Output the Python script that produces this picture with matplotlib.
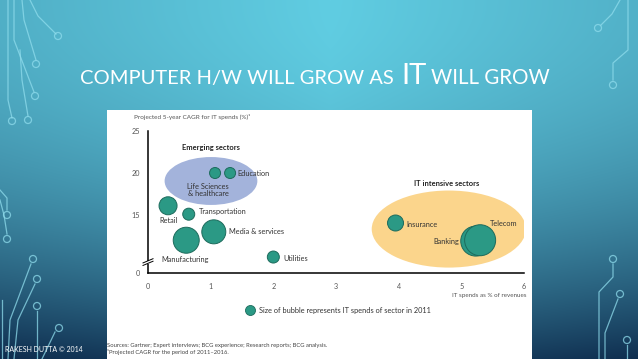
import numpy as np
import matplotlib
matplotlib.use("Agg")
import matplotlib.pyplot as plt
from matplotlib.patches import Ellipse, Rectangle, Circle

W, H = 638, 359

# data
sectors = ["Life Sciences\n& healthcare", "Education", "Retail", "Transportation",
           "Media & services", "Manufacturing", "Utilities", "Insurance",
           "Banking", "Telecom"]
it_spend = [1.07, 1.31, 0.32, 0.65, 1.05, 0.61, 2.00, 3.95, 5.23, 5.30]
cagr = [20.0, 20.0, 16.1, 15.1, 13.0, 12.0, 10.0, 14.05, 11.9, 12.0]
bubble_size = [5.5, 5.5, 9, 6, 12, 13, 6, 8, 15, 15.5]
# label offsets (pixels right / down) and alignment
label_off = [(-7, 17), (7, 0), (0, 15), (10, -3), (15, 0), (-25, 19),
             (10, 1), (11, 1), (-16, 0), (10, -17)]
label_ha = ["center", "left", "center", "left", "left", "left",
            "left", "left", "right", "left"]

x_ticks = [0, 1, 2, 3, 4, 5, 6]
y_ticks = [25, 20, 15]
y_bottom = 8.1

groups = ["Emerging sectors", "IT intensive sectors"]
group_center = [(1.005, 19.05), (4.80, 13.33)]
group_size = [(1.48, 5.7), (2.46, 9.17)]
group_color = ["#a3b3db", "#fbd58c"]
group_title_pos = [(1.0, 23.0), (4.76, 18.8)]

FONT = "Lato"
bubble_fc = "#2b9985"
bubble_ec = "#1d6b5c"

fig = plt.figure(figsize=(W / 100, H / 100), dpi=100)

# slide background
bg = fig.add_axes([0, 0, 1, 1])
bg.set_xlim(0, W)
bg.set_ylim(H, 0)
bg.axis("off")
xx, yy = np.meshgrid(np.arange(W), np.arange(H))
f = 0.17 * np.abs(xx - 330) / 320 + 0.78 * (yy / H) ** 2.1
f = np.clip(f, 0, 1)[..., None]
light = np.array([96, 205, 226]) / 255
dark = np.array([10, 36, 70]) / 255
bg.imshow(light * (1 - f) + dark * f, extent=[0, W, H, 0], aspect="auto", zorder=0)

# circuit decorations
lc = "#8fdcec"
paths = [
    [(30, 0), (38, 16), (56, 34)], [(22, 0), (24, 20), (36, 60)],
    [(14, 0), (14, 40), (34, 92)], [(8, 0), (8, 100), (12, 118)],
    [(20, 50), (22, 80), (28, 116)], [(0, 190), (7, 198), (7, 210)],
    [(0, 200), (4, 215), (7, 234)], [(8, 359), (10, 320), (31, 264)],
    [(14, 359), (18, 320), (35, 284)], [(37, 359), (37, 311)],
    [(42, 359), (55, 332)], [(2, 359), (2, 300)],
    [(620, 0), (612, 14), (601, 25)], [(628, 0), (628, 50), (613, 63), (613, 80)],
    [(613, 264), (613, 277), (599, 292), (599, 359)],
    [(618, 299), (605, 333), (605, 359)], [(627, 345), (627, 359)],
]
for p in paths:
    px, py = zip(*p)
    bg.plot(px, py, color=lc, lw=0.9, alpha=0.75, zorder=1)
for cx, cy in [(58, 36), (36, 64), (35, 96), (12, 121), (28, 120), (7, 215), (7, 239),
               (33, 259), (37, 279), (37, 306), (59, 328), (598, 28), (613, 85),
               (613, 259), (620, 294), (627, 340)]:
    bg.add_patch(Circle((cx, cy), 3.5, fill=False, ec=lc, lw=0.9, alpha=0.75, zorder=1))

# title
title_kw = dict(color="white", fontfamily=FONT, va="baseline", zorder=3)
bg.text(80, 84, "COMPUTER H/W WILL GROW AS", fontsize=14.5, **title_kw)
bg.text(401, 84, "IT", fontsize=21, **title_kw)
bg.text(431, 84, "WILL GROW", fontsize=14.8, **title_kw)
bg.text(5, 349, "RAKESH DUTTA © 2014", fontsize=5, color="white",
        fontfamily=FONT, va="center", zorder=3)

# white chart panel
bg.add_patch(Rectangle((107, 110), 425, 249, fc="white", ec="none", zorder=2))
bg.text(134, 117, "Projected 5-year CAGR for IT spends (%)\u00b9", fontsize=4.6,
        color="#555555", fontfamily=FONT, va="center", zorder=3)
bg.text(526, 296, "IT spends as % of revenues", fontsize=4.5, color="#555555",
        fontfamily=FONT, ha="right", va="center", zorder=3)
bg.scatter([250], [310], s=(2 * 5 * 0.72) ** 2, color=bubble_fc, ec=bubble_ec,
           lw=0.6, zorder=3)
bg.text(259, 310, "Size of bubble represents IT spends of sector in 2011", fontsize=5.3,
        color="#333333", fontfamily=FONT, va="center", zorder=3)
bg.text(107, 345, "Sources: Gartner; Expert interviews; BCG experience; Research reports; BCG analysis.",
        fontsize=4.2, color="#444444", fontfamily=FONT, va="center", zorder=3)
bg.text(107, 352, "\u00b9Projected CAGR for the period of 2011\u20132016.",
        fontsize=4.2, color="#444444", fontfamily=FONT, va="center", zorder=3)

# chart axes
l, r, t, b = 148, 524, 131, 273
ax = fig.add_axes([l / W, 1 - b / H, (r - l) / W, (b - t) / H])
ax.patch.set_alpha(0)
ax.set_xlim(0, 6)
ax.set_ylim(y_bottom, 25)
for s in ["top", "right"]:
    ax.spines[s].set_visible(False)
for s in ["left", "bottom"]:
    ax.spines[s].set_color("black")
    ax.spines[s].set_linewidth(1.1)
ax.set_xticks(x_ticks)
ax.set_yticks(y_ticks + [y_bottom])
ax.set_yticklabels([str(v) for v in y_ticks] + ["0"])
ax.tick_params(length=0, labelsize=5.2, labelcolor="#555555", pad=7)
ax.tick_params(axis="y", pad=6)
for lab in ax.get_xticklabels() + ax.get_yticklabels():
    lab.set_fontfamily(FONT)

# axis break
ax.plot([-0.08, 0.08], [9.0, 9.5], color="black", lw=0.7, clip_on=False, zorder=6)
ax.plot([-0.08, 0.08], [9.3, 9.8], color="black", lw=0.7, clip_on=False, zorder=6)
ax.add_patch(Rectangle((-0.03, 9.2), 0.06, 0.35, fc="white", ec="none",
                       clip_on=False, zorder=5))

for (cx, cy), (w, h), c, name, (tx, ty) in zip(group_center, group_size, group_color,
                                               groups, group_title_pos):
    ax.add_patch(Ellipse((cx, cy), w, h, fc=c, ec="none", zorder=1))
    ax.text(tx, ty, name, fontsize=5.4, fontweight="bold", color="#222222",
            fontfamily=FONT, ha="center", va="center")

sizes = [(2 * rr * 0.72) ** 2 for rr in bubble_size]
ax.scatter(it_spend, cagr, s=sizes, color=bubble_fc, ec=bubble_ec, lw=0.7,
           zorder=3, clip_on=False)

for name, x, y, (dx, dy), ha in zip(sectors, it_spend, cagr, label_off, label_ha):
    ax.annotate(name, (x, y), xytext=(dx * 0.72, -dy * 0.72), textcoords="offset points",
                ha=ha, va="center", fontsize=5.3, color="#333333", fontfamily=FONT,
                zorder=4, linespacing=1.1)

fig.savefig("out.png", dpi=100)
